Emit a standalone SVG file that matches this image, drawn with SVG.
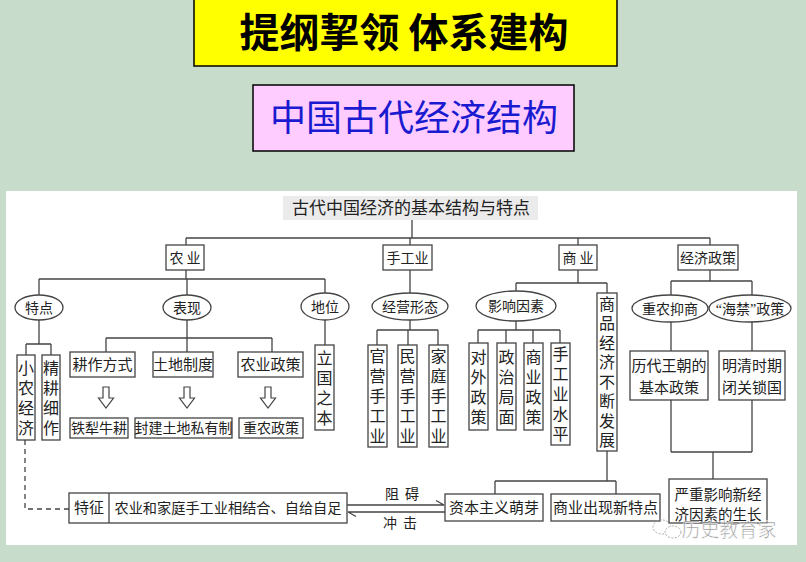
<svg xmlns="http://www.w3.org/2000/svg" width="806" height="562" viewBox="0 0 806 562">
<defs>
<style>
.bx{fill:#fff;stroke:#444;stroke-width:1.3}
.el{fill:#fff;stroke:#444;stroke-width:1.3}
.ln{fill:none;stroke:#444;stroke-width:1.3}
.t{font-family:"Noto Sans CJK SC","Noto Sans",sans-serif;fill:#222;text-anchor:middle;font-size:15px}
.s14{font-size:14px}
.v{font-family:"Noto Sans CJK SC","Noto Sans",sans-serif;fill:#222;text-anchor:middle;font-size:16px;writing-mode:vertical-rl;letter-spacing:4px}
.q{font-family:"Liberation Serif",serif}
.dn{fill:#fff;stroke:#444;stroke-width:1.2}
</style>
<path id="darr" d="M-3 0H3V11H7.5L0 21L-7.5 11H-3Z"/>
</defs>
<rect x="0" y="0" width="806" height="562" fill="#c8dccb"/>
<rect x="6" y="191" width="791" height="354" fill="#fff"/>

<g id="title">
<rect x="194" y="-2" width="423" height="68" fill="#ffff00" stroke="#000" stroke-width="1.5"/>
<text x="404" y="47" font-family="Noto Sans CJK SC,sans-serif" font-weight="bold" font-size="40" text-anchor="middle" fill="#000">提纲挈领 体系建构</text>
</g>
<g id="subtitle">
<rect x="253" y="85" width="321" height="66" fill="#ffccff" stroke="#000" stroke-width="1.5"/>
<text x="414" y="131" font-family="Noto Sans CJK SC,sans-serif" font-size="36" text-anchor="middle" fill="#1a1ad0">中国古代经济结构</text>
</g>

<g id="connectors">
<path class="ln" d="M412 220V238M186 238H710M186 238V245M410 238V245M578 238V245M710 238V245"/>
<path class="ln" d="M186 270V279M39 279H325M39 279V295M187 279V295M325 279V293"/>
<path class="ln" d="M39 320V344M26 344H51M26 344V355M51 344V355"/>
<path class="ln" d="M187 320V338M106 338H272M106 338V352M187 338V352M272 338V352"/>
<path class="ln" d="M325 320V345"/>
<path class="ln" d="M410 270V293M410 320V330M377 330H438M377 330V345M408 330V345M438 330V345"/>
<path class="ln" d="M578 270V283M516 283H607M516 283V291M607 283V293"/>
<path class="ln" d="M516 321V330M478 330H560M478 330V343M506 330V343M533 330V343M560 330V343"/>
<path class="ln" d="M607 451V481M495 481H616M495 481V494M616 481V494"/>
<path class="ln" d="M710 270V281M671 281H752M671 281V295M752 281V295M671 322V351M752 322V351"/>
<path class="ln" d="M671 400V452M752 400V452M671 452H752M713 452V479"/>
<path class="ln" d="M25 440V509H69" stroke="#555" stroke-dasharray="5 4"/>
<path class="ln" d="M347 505H444M436 500.5L444 505M348 512H445M348 512L356 516.5"/>
<use href="#darr" x="106" y="387" class="dn"/>
<use href="#darr" x="187" y="387" class="dn"/>
<use href="#darr" x="268" y="387" class="dn"/>
</g>

<g id="root">
<rect x="283" y="196" width="255" height="24" fill="#ebebeb"/>
<text class="t" x="411" y="214" style="font-size:17px">古代中国经济的基本结构与特点</text>
</g>

<g id="agri"><rect class="bx" x="166" y="245" width="38" height="25"/><text class="t s14" x="185" y="262.5">农 业</text></g>
<g id="craft"><rect class="bx" x="383" y="245" width="49" height="25"/><text class="t s14" x="407.5" y="262.5">手工业</text></g>
<g id="comm"><rect class="bx" x="559" y="245" width="38" height="25"/><text class="t s14" x="578" y="262.5">商 业</text></g>
<g id="policy"><rect class="bx" x="678" y="245" width="60" height="25"/><text class="t s14" x="708" y="262.5">经济政策</text></g>

<g id="tedian"><ellipse class="el" cx="39" cy="307.5" rx="24" ry="12.5"/><text class="t s14" x="39" y="312.5">特点</text></g>
<g id="biaoxian"><ellipse class="el" cx="187" cy="307.5" rx="24" ry="12.5"/><text class="t s14" x="187" y="312.5">表现</text></g>
<g id="diwei"><ellipse class="el" cx="325" cy="306.5" rx="24" ry="13.5"/><text class="t s14" x="325" y="311.5">地位</text></g>

<g id="xiaonong"><rect class="bx" x="17" y="355" width="18" height="85"/><text class="v" x="26" y="399.5">小农经济</text></g>
<g id="jinggeng"><rect class="bx" x="42" y="355" width="18" height="85"/><text class="v" x="51" y="399.5">精耕细作</text></g>

<g id="gengzuo"><rect class="bx" x="70" y="352" width="65" height="25"/><text class="t" x="102.5" y="370">耕作方式</text></g>
<g id="tudi"><rect class="bx" x="153" y="352" width="60" height="25"/><text class="t" x="183" y="370">土地制度</text></g>
<g id="nongye"><rect class="bx" x="238" y="352" width="65" height="25"/><text class="t" x="270.5" y="370">农业政策</text></g>

<g id="tieli"><rect class="bx" x="70" y="418" width="58" height="20"/><text class="t s14" x="99" y="433">铁犁牛耕</text></g>
<g id="fengjian"><rect class="bx" x="135" y="418" width="97" height="20"/><text class="t s14" x="183.5" y="433">封建土地私有制</text></g>
<g id="zhongnong"><rect class="bx" x="239" y="418" width="64" height="20"/><text class="t s14" x="271" y="433">重农政策</text></g>

<g id="liguo"><rect class="bx" x="315" y="345" width="19" height="85"/><text class="v" x="324.5" y="389.5">立国之本</text></g>

<g id="jingying"><ellipse class="el" cx="410" cy="306.5" rx="38" ry="13.5"/><text class="t s14" x="410" y="311.5">经营形态</text></g>
<g id="guanying"><rect class="bx" x="368" y="345" width="19" height="102"/><text class="v" x="377.5" y="398">官营手工业</text></g>
<g id="minying"><rect class="bx" x="398" y="345" width="19" height="102"/><text class="v" x="407.5" y="398">民营手工业</text></g>
<g id="jiating"><rect class="bx" x="429" y="345" width="19" height="102"/><text class="v" x="438.5" y="398">家庭手工业</text></g>

<g id="yingxiang"><ellipse class="el" cx="516" cy="306" rx="40" ry="15"/><text class="t s14" x="516" y="311">影响因素</text></g>
<g id="duiwai"><rect class="bx" x="469" y="343" width="19" height="87"/><text class="v" x="478.5" y="388.5">对外政策</text></g>
<g id="zhengzhi"><rect class="bx" x="497" y="343" width="19" height="87"/><text class="v" x="506.5" y="388.5">政治局面</text></g>
<g id="shangye"><rect class="bx" x="524" y="343" width="19" height="87"/><text class="v" x="533.5" y="388.5">商业政策</text></g>
<g id="shougong"><rect class="bx" x="551" y="343" width="19" height="102"/><text class="v" x="560.5" y="396">手工业水平</text></g>
<g id="shangpin"><rect class="bx" x="597" y="293" width="20" height="158"/><text class="v" x="607" y="373.5" style="letter-spacing:3.5px">商品经济不断发展</text></g>

<g id="zibenzhuyi"><rect class="bx" x="445" y="494" width="98" height="27"/><text class="t" x="494" y="513">资本主义萌芽</text></g>
<g id="xintedian"><rect class="bx" x="551" y="494" width="109" height="27"/><text class="t" x="605.5" y="513">商业出现新特点</text></g>

<g id="zhongnongyishang"><ellipse class="el" cx="670" cy="308.5" rx="38" ry="13.5"/><text class="t s14" x="670" y="313.5">重农抑商</text></g>
<g id="haijin"><ellipse class="el" cx="750" cy="308.5" rx="41" ry="13.5"/><text class="t s14" x="750" y="313.5"><tspan class="q">“</tspan>海禁<tspan class="q">”</tspan>政策</text></g>
<g id="lidai"><rect class="bx" x="630" y="351" width="78" height="49"/><text class="t" x="669" y="371">历代王朝的</text><text class="t" x="669" y="393">基本政策</text></g>
<g id="mingqing"><rect class="bx" x="719" y="351" width="66" height="49"/><text class="t" x="752" y="371">明清时期</text><text class="t" x="752" y="393">闭关锁国</text></g>
<g id="yanzhong"><rect class="bx" x="669" y="479" width="98" height="44"/><text class="t" x="718" y="500" style="font-size:14.5px">严重影响新经</text><text class="t" x="718" y="520" style="font-size:14.5px">济因素的生长</text></g>

<g id="tezheng"><rect class="bx" x="69" y="493" width="278" height="30"/><path class="ln" d="M109 493V523"/><text class="t" x="89" y="513">特征</text><text class="t" x="228" y="513" style="font-size:14.2px">农业和家庭手工业相结合、自给自足</text></g>

<g id="labels">
<text class="t s14" x="392" y="499">阻</text><text class="t s14" x="412" y="499">碍</text>
<text class="t s14" x="390" y="528">冲</text><text class="t s14" x="410" y="528">击</text>
</g>

<g id="watermark" opacity="0.8">
<ellipse cx="662" cy="527" rx="9" ry="7" fill="none" stroke="#999" stroke-width="1" stroke-dasharray="2 1.5"/>
<ellipse cx="673" cy="532" rx="8" ry="6" fill="#fff" stroke="#999" stroke-width="1" stroke-dasharray="2 1.5"/>
<text x="729" y="537" font-family="Noto Sans CJK SC,sans-serif" font-size="19" text-anchor="middle" fill="#777" stroke="#fff" stroke-width="0.6">历史教育家</text>
</g>
</svg>
